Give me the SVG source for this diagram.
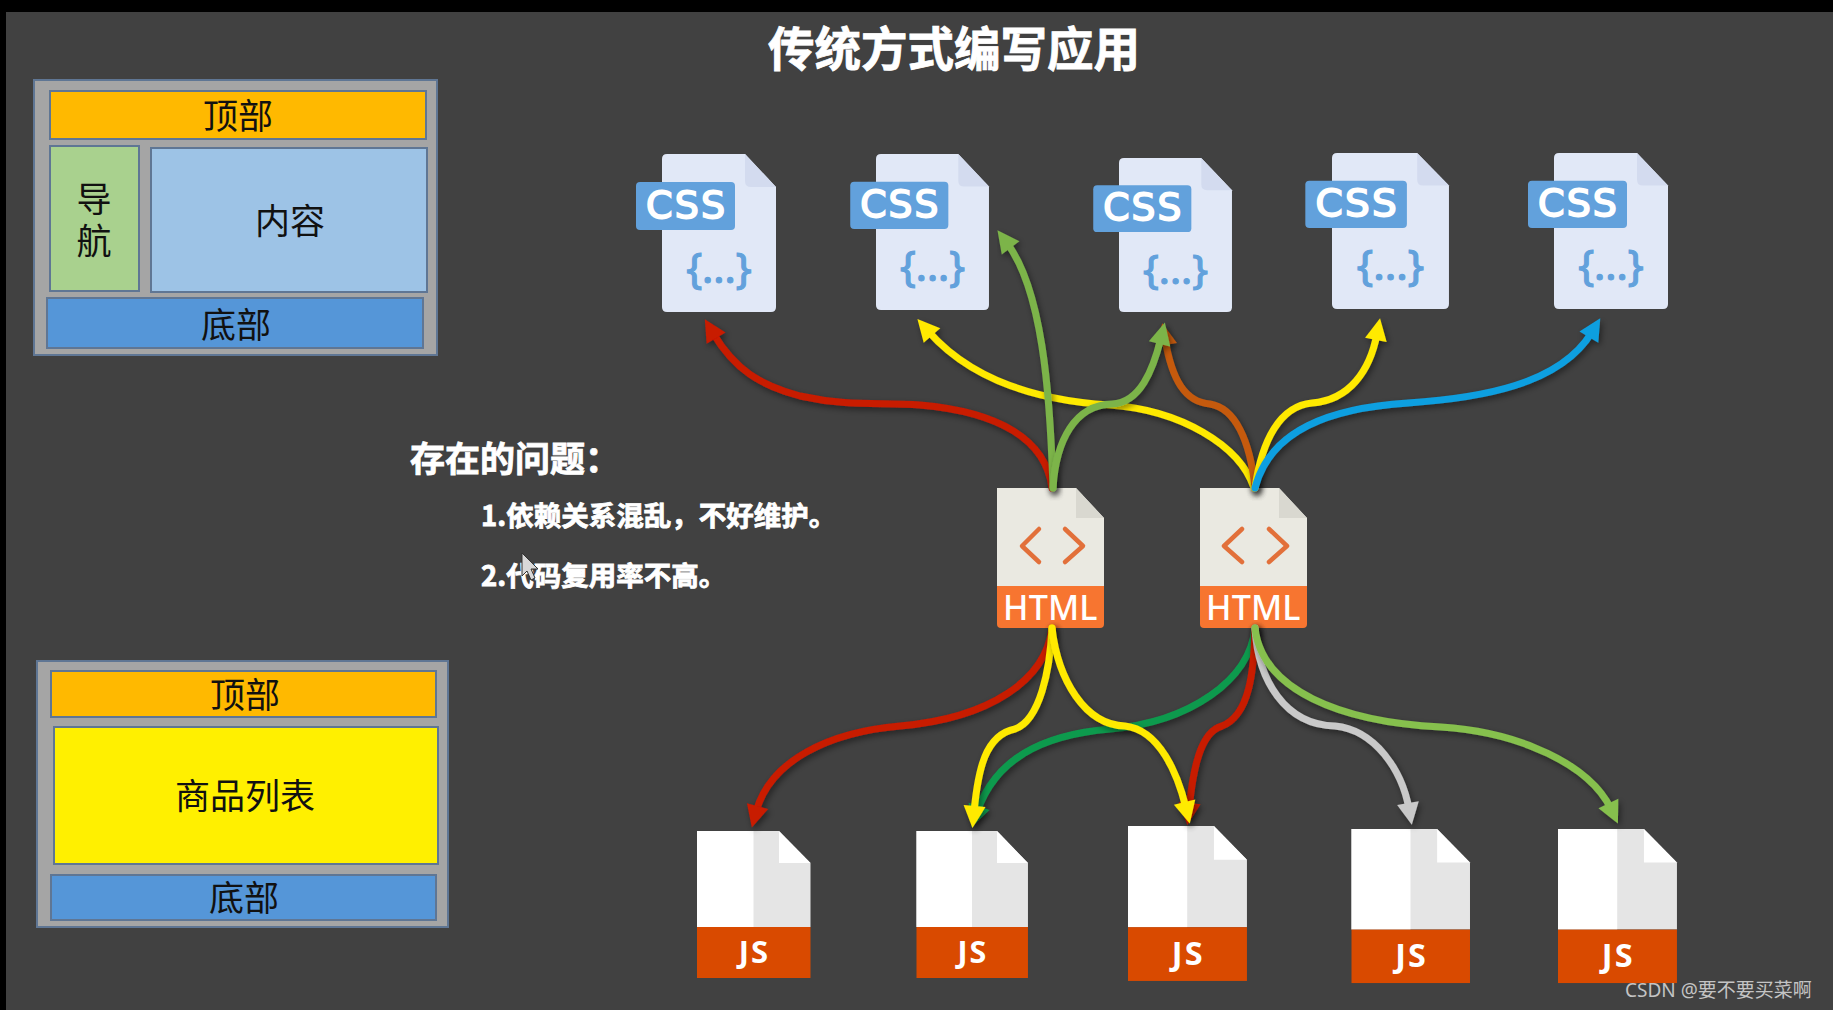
<svg xmlns="http://www.w3.org/2000/svg" width="1833" height="1010" viewBox="0 0 1833 1010">
<style>
.cjk{font-family:"Noto Sans CJK SC","Noto Sans",sans-serif;text-anchor:middle}
.lb{font-size:35px;fill:#111}
.hd{font-weight:700;fill:#fff;stroke:#fff;stroke-width:.8}
.box{stroke:#5f7694;stroke-width:2}
.c{fill:none;stroke-width:7;stroke-linecap:round;filter:url(#sh)}
.csst{font-family:"DejaVu Sans",sans-serif;font-size:38px;fill:#fff;stroke:#fff;stroke-width:1.8;text-anchor:middle}
.brc{font-family:"Noto Sans",sans-serif;font-size:42px;fill:#62A1DC;stroke:#62A1DC;stroke-width:1.2;text-anchor:middle}
.htmlt{font-family:"Noto Sans",sans-serif;font-size:34px;font-weight:500;fill:#fff;text-anchor:middle;letter-spacing:1.5px}
.jst{font-family:"Noto Sans",sans-serif;font-size:31px;font-weight:700;fill:#fff;text-anchor:middle;letter-spacing:2px}
.chev{fill:none;stroke:#E2703A;stroke-width:4.5;stroke-linecap:round;stroke-linejoin:round}
</style>
<defs>
<filter id="sh" x="-20%" y="-20%" width="140%" height="140%"><feDropShadow dx="2" dy="3" stdDeviation="3" flood-color="#000" flood-opacity=".45"/></filter>
<marker id="mRed" markerUnits="userSpaceOnUse" markerWidth="28" markerHeight="28" refX="8" refY="14" orient="auto"><path d="M2,3 L24,14 L2,25z" fill="#C81A00"/></marker>
<marker id="mOlive" markerUnits="userSpaceOnUse" markerWidth="28" markerHeight="28" refX="8" refY="14" orient="auto"><path d="M2,3 L24,14 L2,25z" fill="#7CB44A"/></marker>
<marker id="mYel" markerUnits="userSpaceOnUse" markerWidth="28" markerHeight="28" refX="8" refY="14" orient="auto"><path d="M2,3 L24,14 L2,25z" fill="#FFEA00"/></marker>
<marker id="mBrown" markerUnits="userSpaceOnUse" markerWidth="28" markerHeight="28" refX="8" refY="14" orient="auto"><path d="M2,3 L24,14 L2,25z" fill="#C55A11"/></marker>
<marker id="mBlue" markerUnits="userSpaceOnUse" markerWidth="28" markerHeight="28" refX="8" refY="14" orient="auto"><path d="M2,3 L24,14 L2,25z" fill="#0F9FE0"/></marker>
<marker id="mDG" markerUnits="userSpaceOnUse" markerWidth="28" markerHeight="28" refX="8" refY="14" orient="auto"><path d="M2,3 L24,14 L2,25z" fill="#0E9A4E"/></marker>
<marker id="mGrey" markerUnits="userSpaceOnUse" markerWidth="28" markerHeight="28" refX="8" refY="14" orient="auto"><path d="M2,3 L24,14 L2,25z" fill="#C9C9C9"/></marker>
<marker id="mLG" markerUnits="userSpaceOnUse" markerWidth="28" markerHeight="28" refX="8" refY="14" orient="auto"><path d="M2,3 L24,14 L2,25z" fill="#86C04E"/></marker>
<g id="cssShape">
<path d="M5,0 H83 L114,33 V153 Q114,158 109,158 H5 Q0,158 0,153 V5 Q0,0 5,0z" fill="#E1E8F7"/>
<path d="M83,0 L114,33 H89 Q83,33 83,27z" fill="#D3DBEF"/>
<rect x="-26" y="28" width="99" height="48" rx="4" fill="#62A1DC"/>
</g>
<g id="htmlShape">
<path d="M0,0 H79 L107,30 V98 H0z" fill="#EAE9E1"/>
<path d="M79,0 L107,30 H79z" fill="#D9D8D0"/>
<path d="M0,98 H107 V136 Q107,140 103,140 H4 Q0,140 0,136z" fill="#F77530"/>
</g>
<g id="jsShape">
<path d="M0,0 H82 L113.500,32 V96 H0z" fill="#E5E5E5"/>
<path d="M0,0 H56.500 V96 H0z" fill="#fff"/>
<path d="M82,0 L113.500,32 H82z" fill="#fff"/>
<rect x="0" y="96" width="113.500" height="51" fill="#D94A00"/>
</g>
</defs>
<rect width="1833" height="1010" fill="#000"/>
<rect x="6" y="12" width="1827" height="998" fill="#414141"/>

<g id="layout-one">
<rect class="box" x="34" y="80" width="403" height="275" fill="#A5A5A5"/>
<rect class="box" x="50" y="91" width="376" height="48" fill="#FFB900"/>
<rect class="box" x="50" y="146" width="89" height="145" fill="#A9D18E"/>
<rect class="box" x="151" y="148" width="276" height="144" fill="#9DC3E6"/>
<rect class="box" x="47" y="298" width="376" height="50" fill="#5596D8"/>
<text class="cjk lb" x="238" y="129">顶部</text>
<text class="cjk lb" x="94" y="223" style="writing-mode:vertical-rl;letter-spacing:7px">导航</text>
<text class="cjk lb" x="290" y="234">内容</text>
<text class="cjk lb" x="236" y="338">底部</text>
</g>
<g id="layout-two">
<rect class="box" x="37" y="661" width="411" height="266" fill="#A5A5A5"/>
<rect class="box" x="51" y="671" width="385" height="46" fill="#FFB900"/>
<rect class="box" x="54" y="727" width="384" height="137" fill="#FFF000"/>
<rect class="box" x="51" y="875" width="385" height="45" fill="#5596D8"/>
<text class="cjk lb" x="245" y="708">顶部</text>
<text class="cjk lb" x="245" y="809">商品列表</text>
<text class="cjk lb" x="244" y="911">底部</text>
</g>

<text id="title" class="cjk hd" x="954" y="66" font-size="46.500">传统方式编写应用</text>
<g id="problems">
<text class="cjk hd" x="410" y="472" font-size="35" style="text-anchor:start">存在的问题&#xFF1A;</text>
<text class="cjk hd" x="481" y="526" font-size="27.500" style="text-anchor:start">1.依赖关系混乱&#xFF0C;不好维护。</text>
<text class="cjk hd" x="481" y="586" font-size="27.500" style="text-anchor:start">2.代码复用率不高。</text>
<path d="M522,553 V576 L527,571 L531,580 L535,578 L531,569 L538,569z" fill="#d8d8d8" stroke="#333" stroke-width="1"/>
</g>

<g id="css1" transform="translate(662,154)"><use href="#cssShape"/><text class="csst" x="23.500" y="64" textLength="79">CSS</text><text class="brc" x="57" y="129">{...}</text></g>
<g id="css2" transform="translate(876,154) scale(.991,.987)"><use href="#cssShape"/><text class="csst" x="23.500" y="64" textLength="79">CSS</text><text class="brc" x="57" y="129">{...}</text></g>
<g id="css3" transform="translate(1119,158) scale(.991,.975)"><use href="#cssShape"/><text class="csst" x="23.500" y="64" textLength="79">CSS</text><text class="brc" x="57" y="129">{...}</text></g>
<g id="css4" transform="translate(1332,153) scale(1.026,.987)"><use href="#cssShape"/><text class="csst" x="23.500" y="64" textLength="79">CSS</text><text class="brc" x="57" y="129">{...}</text></g>
<g id="css5" transform="translate(1554,153) scale(1,.987)"><use href="#cssShape"/><text class="csst" x="23.500" y="64" textLength="79">CSS</text><text class="brc" x="57" y="129">{...}</text></g>

<g id="html1" transform="translate(997,488)"><use href="#htmlShape"/><path class="chev" d="M42,41 L25,58 L42,74 M68,41 L86,58 L68,74"/><text class="htmlt" x="54" y="132" textLength="96">HTML</text></g>
<g id="html2" transform="translate(1200,488)"><use href="#htmlShape"/><path class="chev" d="M42,41 L24,58 L42,74 M69,41 L87,58 L69,74"/><text class="htmlt" x="54" y="132" textLength="96">HTML</text></g>

<g id="js1" transform="translate(697,831)"><use href="#jsShape"/><text class="jst" x="57.500" y="132">JS</text></g>
<g id="js2" transform="translate(916.500,831) scale(.982,1)"><use href="#jsShape"/><text class="jst" x="57.500" y="132">JS</text></g>
<g id="js3" transform="translate(1128,826) scale(1.048,1.054)"><use href="#jsShape"/><text class="jst" x="57.500" y="132">JS</text></g>
<g id="js4" transform="translate(1351.500,829) scale(1.044,1.048)"><use href="#jsShape"/><text class="jst" x="57.500" y="132">JS</text></g>
<g id="js5" transform="translate(1558,829) scale(1.048,1.048)"><use href="#jsShape"/><text class="jst" x="57.500" y="132">JS</text></g>

<g id="connectors">
<path class="c" stroke="#FFEA00" marker-end="url(#mYel)" d="M1254,488 C1240,445 1180,410 1110,405 C1060,402 980,390 928,331"/>
<path class="c" stroke="#C81A00" marker-end="url(#mRed)" d="M1052,488 C1046,440 1000,412 920,405 C880,402 850,407 800,396 C760,385 735,370 713,333"/>
<path class="c" stroke="#7CB44A" marker-end="url(#mOlive)" d="M1053,488 C1050,390 1042,290 1007,243"/>
<path class="c" stroke="#C55A11" marker-end="url(#mBrown)" d="M1255,488 C1250,440 1235,408 1210,404 C1185,402 1172,380 1165,339"/>
<path class="c" stroke="#7CB44A" marker-end="url(#mOlive)" d="M1053,488 C1056,440 1075,405 1112,404 C1140,403 1153,370 1161,338"/>
<path class="c" stroke="#FFEA00" marker-end="url(#mYel)" d="M1255,488 C1262,440 1280,406 1312,403 C1350,400 1370,370 1377,334"/>
<path class="c" stroke="#0F9FE0" marker-end="url(#mBlue)" d="M1255,488 C1270,430 1330,408 1408,403 C1480,398 1560,385 1592,332"/>
<path class="c" stroke="#C81A00" marker-end="url(#mRed)" d="M1052,628 C1046,680 990,718 900,726 C830,732 770,760 756,812"/>
<path class="c" stroke="#0E9A4E" marker-end="url(#mDG)" d="M1255,628 C1250,680 1190,722 1110,729 C1040,735 995,760 977,812"/>
<path class="c" stroke="#C81A00" marker-end="url(#mRed)" d="M1255,628 C1254,670 1250,715 1222,726 C1200,732 1193,770 1189,809"/>
<path class="c" stroke="#FFEA00" marker-end="url(#mYel)" d="M1052,628 C1050,670 1040,720 1015,729 C985,735 978,770 974,812"/>
<path class="c" stroke="#FFEA00" marker-end="url(#mYel)" d="M1052,628 C1058,680 1085,725 1125,726 C1160,730 1178,775 1186,808"/>
<path class="c" stroke="#C9C9C9" marker-end="url(#mGrey)" d="M1255,628 C1258,680 1285,725 1335,726 C1375,730 1402,770 1409,809"/>
<path class="c" stroke="#86C04E" marker-end="url(#mLG)" d="M1255,628 C1262,690 1340,722 1441,727 C1520,732 1590,765 1611,809"/>
</g>
<text id="watermark" x="1625" y="997" font-size="19" fill="#c4c4c4" font-family="'Noto Sans','Noto Sans CJK SC',sans-serif">CSDN @要不要买菜啊</text>
</svg>
